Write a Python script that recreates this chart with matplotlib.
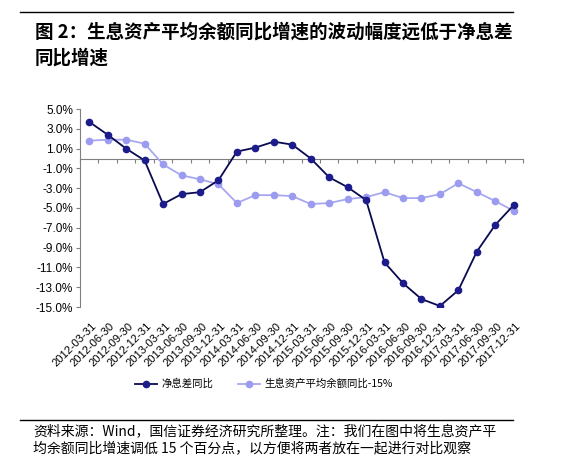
import matplotlib
matplotlib.use("Agg")
import matplotlib.pyplot as plt
from matplotlib.ticker import FuncFormatter, FixedLocator
import numpy as np

plt.rcParams['font.family'] = ['Noto Sans CJK SC', 'DejaVu Sans']

dates = ["2012-03-31", "2012-06-30", "2012-09-30", "2012-12-31",
         "2013-03-31", "2013-06-30", "2013-09-30", "2013-12-31",
         "2014-03-31", "2014-06-30", "2014-09-30", "2014-12-31",
         "2015-03-31", "2015-06-30", "2015-09-30", "2015-12-31",
         "2016-03-31", "2016-06-30", "2016-09-30", "2016-12-31",
         "2017-03-31", "2017-06-30", "2017-09-30", "2017-12-31"]
nim_yoy = [3.7, 2.4, 1.0, -0.2, -4.6, -3.6, -3.4, -2.2,
           0.7, 1.1, 1.7, 1.4, 0.0, -1.9, -2.9, -4.2,
           -10.5, -12.6, -14.2, -14.9, -13.3, -9.4, -6.7, -4.7]
asset_yoy_minus15 = [1.8, 1.9, 1.9, 1.5, -0.6, -1.7, -2.1, -2.6,
                     -4.5, -3.7, -3.7, -3.8, -4.6, -4.5, -4.1, -3.9,
                     -3.4, -4.0, -4.0, -3.6, -2.5, -3.4, -4.3, -5.3]
series_names = ["净息差同比", "生息资产平均余额同比-15%"]
yticks = [5, 3, 1, -1, -3, -5, -7, -9, -11, -13, -15]

W, H = 563, 466
fig = plt.figure(figsize=(W / 100, H / 100), dpi=100)
fig.patch.set_facecolor("white")

ax = fig.add_axes([80 / W, 1 - 307 / H, (523 - 80) / W, (307 - 109) / H])
x = np.arange(len(dates))

ax.plot(x, nim_yoy, color="#0a0a50", lw=1.3, marker="o", ms=4.5,
        mfc="#1c1c8c", mec="#1c1c8c", label=series_names[0], zorder=4)
ax.plot(x, asset_yoy_minus15, color="#a8a8f0", lw=1.3, marker="o", ms=4.5,
        mfc="#9b9bf0", mec="#9b9bf0", label=series_names[1], zorder=3)

ax.set_xlim(-0.5, len(dates) - 0.5)
ax.set_ylim(-15, 5)
ax.yaxis.set_major_locator(FixedLocator(yticks))
ax.yaxis.set_major_formatter(FuncFormatter(lambda v, p: f"{v:.1f}%"))
ax.tick_params(axis="y", labelsize=8.5, length=3, width=0.8, color="#808080",
               pad=2, labelcolor="black")
for lab in ax.get_yticklabels():
    lab.set_family(["Liberation Sans", "DejaVu Sans"])

for s in ["top", "right"]:
    ax.spines[s].set_visible(False)
ax.spines["left"].set_color("#808080")
ax.spines["left"].set_linewidth(0.8)
ax.spines["bottom"].set_position(("data", 0))
ax.spines["bottom"].set_color("#808080")
ax.spines["bottom"].set_linewidth(0.8)
ax.set_xticks(np.arange(len(dates) + 1) - 0.5)
ax.tick_params(axis="x", length=3, width=0.8, color="#808080", labelbottom=False)

trans = ax.get_xaxis_transform()
for i, d in enumerate(dates):
    ax.text(i + 0.1, -0.07, d, transform=trans, rotation=45, ha="right", va="top",
            rotation_mode="anchor", fontsize=8,
            family=["Liberation Sans", "DejaVu Sans"])

leg = fig.legend(loc="center", bbox_to_anchor=(264 / W, 1 - 384 / H), ncol=2,
                 frameon=False, fontsize=7.5, handlelength=2.1, columnspacing=2.4,
                 handletextpad=0.4)

# title and lines
fig.add_artist(plt.Line2D([20 / W, 513 / W], [1 - 12 / H, 1 - 12 / H], color="black", lw=1.0))
fig.text(35 / W, 1 - 32 / H, "图 2：生息资产平均余额同比增速的波动幅度远低于净息差",
         fontsize=13.3, fontweight="bold", va="center", ha="left")
fig.text(35 / W, 1 - 58 / H, "同比增速", fontsize=13.3, fontweight="bold",
         va="center", ha="left")

fig.add_artist(plt.Line2D([20 / W, 513 / W], [1 - 420 / H, 1 - 420 / H], color="black", lw=1.0))
fig.text(33 / W, 1 - 431 / H, "资料来源：Wind，国信证券经济研究所整理。注：我们在图中将生息资产平",
         fontsize=10, va="center", ha="left")
fig.text(33 / W, 1 - 448 / H, "均余额同比增速调低 15 个百分点，以方便将两者放在一起进行对比观察",
         fontsize=10, va="center", ha="left")

fig.savefig("out.png", dpi=100, facecolor="white")
